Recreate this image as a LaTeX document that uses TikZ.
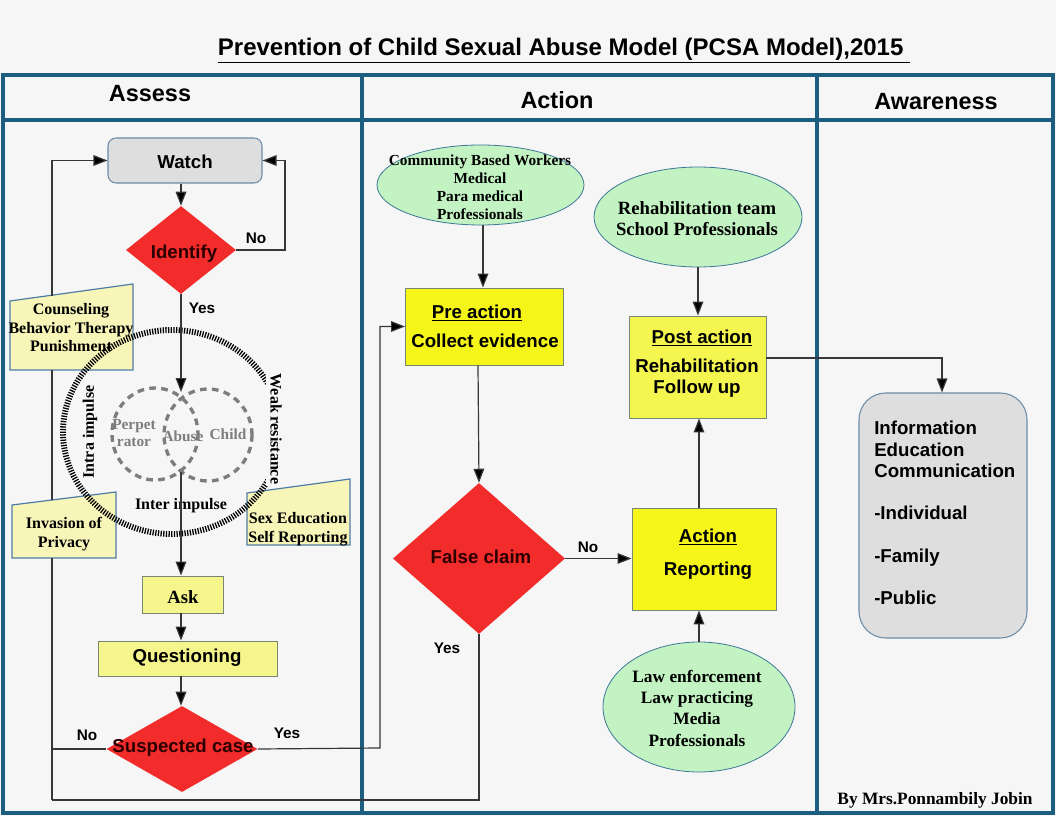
\documentclass[tikz,border=0pt]{standalone}
\usepackage{fontspec}
\setmainfont{Liberation Sans}
\newfontfamily\serifb{Liberation Serif}
\usetikzlibrary{shapes.geometric,arrows.meta,calc}
\definecolor{bg}{RGB}{246,246,246}
\definecolor{tblue}{RGB}{27,94,128}
\definecolor{redd}{RGB}{242,43,43}
\definecolor{yelA}{RGB}{245,245,25}
\definecolor{yelB}{RGB}{245,245,80}
\definecolor{yelC}{RGB}{245,245,140}
\definecolor{yelM}{RGB}{248,245,185}
\definecolor{greenE}{RGB}{195,242,195}
\definecolor{grayW}{RGB}{222,222,222}
\definecolor{bord}{RGB}{110,140,165}
\definecolor{ybord}{RGB}{120,135,115}
\definecolor{mbord}{RGB}{80,125,165}
\definecolor{ebord}{RGB}{60,120,150}
\definecolor{venn}{RGB}{125,125,125}
\definecolor{linec}{RGB}{55,55,55}
\definecolor{dtext}{RGB}{45,0,0}
\begin{document}
\begin{tikzpicture}[x=0.75pt,y=-0.75pt,
  sz/.style 2 args={minimum width=#1*0.75pt, minimum height=#2*0.75pt, inner sep=0pt},
  tbl/.style={draw=tblue, line width=2.3pt},
  conn/.style={draw=linec, line width=0.9pt},
  arr/.style={conn, -{Triangle[length=10.5pt,width=8pt,fill=black]}},
  sans/.style={font=\fontsize{14}{16}\selectfont\bfseries, inner sep=0pt},
  lab/.style={font=\fontsize{11.5}{13}\selectfont\bfseries, inner sep=0pt},
  hdr/.style={font=\fontsize{17.6}{20}\selectfont\bfseries, inner sep=0pt},
  dtxt/.style={sans, text=dtext},
  sertxt/.style={font=\serifb\fontsize{12}{13.9}\selectfont\bfseries, align=center, inner sep=0pt},
  venntxt/.style={font=\serifb\fontsize{11.5}{12.5}\selectfont\bfseries, text=venn, align=center, inner sep=0pt},
  ringtxt/.style={font=\serifb\fontsize{12}{13}\selectfont\bfseries, inner sep=0pt},
  dia/.style={diamond, fill=redd, draw=none},
  ybox/.style={rectangle, draw=ybord, line width=0.7pt},
  ell/.style={ellipse, fill=greenE, draw=ebord, line width=0.6pt},
  manual/.style={fill=yelM, draw=mbord, line width=0.9pt},
  ring/.style={draw=black, line width=4.4pt, dash pattern=on 0.95pt off 1.05pt},
  vd/.style={draw=venn, line width=2.5pt, dash pattern=on 5pt off 4pt}
]
\useasboundingbox (0,0) rectangle (1056,816);
\fill[bg] (0,0) rectangle (1056,816);

% title
\node[font=\fontsize{18}{21}\selectfont\bfseries, inner sep=0pt] (title) at (564,51) {\underline{Prevention of Child Sexual Abuse Model (PCSA Model),2015\ }};

% table
\draw[tbl] (3,75) rectangle (1053,813);
\draw[tbl] (3,120) -- (1053,120);
\draw[tbl] (362,75) -- (362,813);
\draw[tbl] (817,75) -- (817,813);
\node[hdr] (hA) at (150,94) {Assess};
\node[hdr] (hB) at (557,100) {Action};
\node[hdr] (hC) at (936,102) {Awareness};

% ---------- Assess column ----------
\node[rounded corners=6pt, fill=grayW, draw=bord, line width=0.8pt, sz={154}{45}] (watch) at (185,160.5) {};
\node[sans] (watchT) at (185,162) {Watch};
\node[dia, sz={110}{88}] (idf) at (181,250) {};
\node[dtxt] (idfT) at (184,254) {Identify};

% manual input boxes
\filldraw[manual] (10,301) -- (133,284) -- (133,370) -- (10,370) -- cycle;
\node[sertxt] (cnsT) at (71,328) {Counseling\\Behavior Therapy\\Punishment};
\filldraw[manual] (12,505) -- (116,492) -- (116,558) -- (12,558) -- cycle;
\node[sertxt] (invT) at (64,534) {Invasion of\\Privacy};
\filldraw[manual] (247,493) -- (350,479) -- (350,545) -- (247,545) -- cycle;
\node[sertxt] (sexT) at (298,529) {Sex Education\\Self Reporting};

\node[ybox, fill=yelC, sz={81}{37}] (ask) at (182.5,594.5) {};
\node[font=\serifb\fontsize{14}{16}\selectfont\bfseries, inner sep=0pt] (askT) at (183,597) {Ask};
\node[ybox, fill=yelC, sz={179}{35}] (qst) at (187.5,658.5) {};
\node[sans] (qstT) at (187,658) {Questioning};
\node[dia, sz={151}{86}] (sus) at (182,749) {};
\node[dtxt] (susT) at (183,748) {Suspected case};

% Venn
\draw[vd] (155,434) ellipse [x radius=43, y radius=46];
\draw[vd] (208,435) ellipse [x radius=44, y radius=46];
\node[venntxt] (perT) at (134,433) {Perpet\\rator};
\node[venntxt] (abuT) at (183,436) {Abuse};
\node[venntxt] (chiT) at (228,434) {Child};
\node[ringtxt, rotate=90] (intraT) at (90,432) {Intra impulse};
\node[ringtxt] (interT) at (181,506) {Inter impulse};
\draw[ring] (172,432) ellipse [x radius=109, y radius=102];
\node[ringtxt, rotate=-90, fill=bg, inner xsep=1pt, inner ysep=3pt] (weakT) at (276,429) {Weak resistance};

% coordinates for connectors
\coordinate (vtop) at (181,392);
\coordinate (vbot) at (181,472);
\coordinate (cT) at (52,296);
\coordinate (cB) at (52,370);
\coordinate (iT) at (52,500);
\coordinate (iB) at (52,558);
\coordinate (bl) at (52,800);
\coordinate (br) at (479,800);
\coordinate (noR) at (285,250);
\coordinate (yy) at (380,748);

\draw[arr] (watch.south -| idf.north) -- (idf.north);
\draw[arr] (idf.east) -- (noR) |- (watch.east);
\node[lab] (noA) at (256,238) {No};
\draw[arr] (idf.south) -- (vtop);
\node[lab] (yesA) at (202,308) {Yes};
\draw[arr] (vbot) -- (vbot |- ask.north);
\draw[arr] (ask.south -| vbot) -- (qst.north -| vbot);
\draw[arr] (qst.south -| vbot) -- (sus.north -| vbot);
\draw[arr] (cT) |- (watch.west);
\draw[conn] (cB) -- (iT);
\draw[conn] (iB) -- (bl);
\draw[conn] (sus.west) -- (sus.west -| bl);
\node[lab] (noB) at (87,735) {No};
\draw[arr] (sus.east) -- (yy) |- (380,326.5) -- (405,326.5);
\node[lab] (yesB) at (287,733) {Yes};

% ---------- Action column ----------
\node[ell, sz={207}{80}] (cbw) at (480.5,185) {};
\node[font=\serifb\fontsize{11.5}{13.5}\selectfont\bfseries, align=center, inner sep=0pt] (cbwT) at (480,187) {Community Based Workers\\Medical\\Para medical\\Professionals};
\node[ybox, fill=yelA, sz={158}{77}] (pre) at (484,326.5) {};
\node[sans] (preT1) at (477,313) {\underline{Pre action}};
\node[sans] (preT2) at (485,341) {Collect evidence};
\node[dia, sz={172}{151}] (fc) at (479,558.5) {};
\node[dtxt] (fcT) at (481,557) {False claim};
\node[ybox, fill=yelA, sz={144}{102}] (act) at (704,559) {};
\node[sans] (actT1) at (708,537) {\underline{Action}};
\node[sans] (actT2) at (708,571) {Reporting};
\node[ell, sz={192}{130}] (law) at (699,707) {};
\node[font=\serifb\fontsize{13}{16}\selectfont\bfseries, align=center, inner sep=0pt] (lawT) at (697,708) {Law enforcement\\Law practicing\\Media\\Professionals};
\node[ybox, fill=yelB, sz={137}{102}] (post) at (697.5,367) {};
\node[sans] (postT1) at (702,338) {\underline{Post action}};
\node[sans, align=center, font=\fontsize{14}{15.8}\selectfont\bfseries] (postT2) at (697,378) {Rehabilitation\\Follow up};
\node[ell, sz={208}{100}] (reh) at (698,217) {};
\node[font=\serifb\fontsize{14}{15.8}\selectfont\bfseries, align=center, inner sep=0pt] (rehT) at (697,218.5) {Rehabilitation team\\School Professionals};

\draw[arr] (cbw.south -| 483,0) -- (pre.north -| 483,0);
\draw[arr] (pre.south -| 478,0) -- (fc.north);
\draw[arr] (fc.east) -- (act.west |- fc.east);
\node[lab] (noC) at (588,547) {No};
\draw[conn] (fc.south) -- (br) -- (bl);
\node[lab] (yesC) at (447,648) {Yes};
\draw[arr] (law.north) -- (law.north |- act.south);
\draw[arr] (act.north -| law.north) -- (post.south -| law.north);
\draw[arr] (reh.south) -- (reh.south |- post.north);

% ---------- Awareness column ----------
\coordinate (pc) at (942,358);
\node[rounded corners=20pt, fill=grayW, draw=bord, line width=0.8pt, sz={168}{245}] (iec) at (943,515.5) {};
\node[sans, align=left, anchor=west, font=\fontsize{14}{15.9}\selectfont\bfseries] (iecT) at (874,513) {Information\\Education\\Communication\\[15.9pt]-Individual\\[15.9pt]-Family\\[15.9pt]-Public};
\draw[arr] (post.east |- pc) -- (pc) -- (pc |- iec.north);
\node[font=\serifb\fontsize{13}{15}\selectfont\bfseries, inner sep=0pt] (by) at (935,800) {By Mrs.Ponnambily Jobin};
\end{tikzpicture}
\end{document}
